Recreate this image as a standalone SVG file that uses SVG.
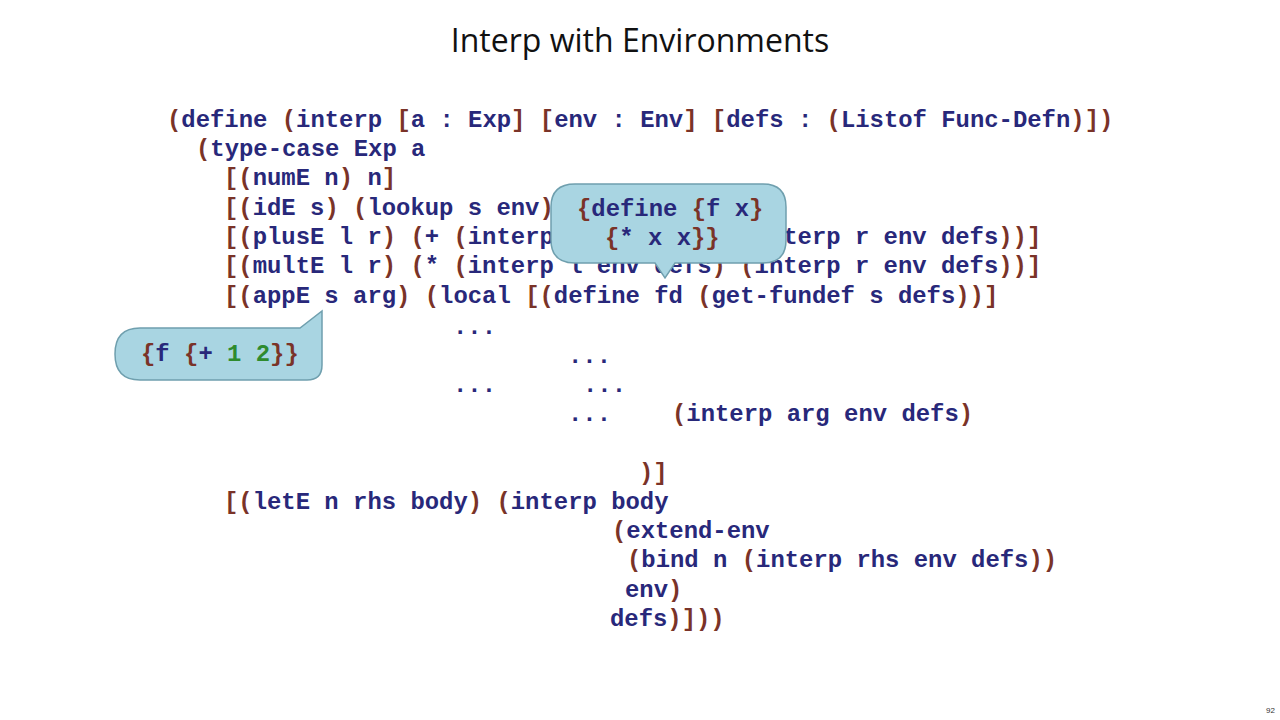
<svg xmlns="http://www.w3.org/2000/svg" width="1280" height="720" viewBox="0 0 1280 720">
<style>
.c{font-family:"Liberation Mono",monospace;font-weight:bold;font-size:23.9px;fill:#28287a}
.p{fill:#7a3328}
.g{fill:#2e8b2e}
.b{fill:#a9d5e2;stroke:#6f9fae;stroke-width:1.5}
</style>
<rect width="1280" height="720" fill="#fff"/>
<text x="640" y="52" text-anchor="middle" font-family="'Open Sans','Liberation Sans',sans-serif" font-size="32" fill="#111">Interp with Environments</text>
<g id="code" class="c">
<text x="167" y="127"><tspan class="p">(</tspan>define <tspan class="p">(</tspan>interp <tspan class="p">[</tspan>a : Exp<tspan class="p">]</tspan> <tspan class="p">[</tspan>env : Env<tspan class="p">]</tspan> <tspan class="p">[</tspan>defs : <tspan class="p">(</tspan>Listof Func-Defn<tspan class="p">)])</tspan></text>
<text x="196" y="156"><tspan class="p">(</tspan>type-case Exp a</text>
<text x="224" y="185"><tspan class="p">[(</tspan>numE n<tspan class="p">)</tspan> n<tspan class="p">]</tspan></text>
<text x="224" y="215"><tspan class="p">[(</tspan>idE s<tspan class="p">)</tspan> <tspan class="p">(</tspan>lookup s env<tspan class="p">)]</tspan></text>
<text x="224" y="244"><tspan class="p">[(</tspan>plusE l r<tspan class="p">)</tspan> <tspan class="p">(</tspan>+ <tspan class="p">(</tspan>interp l env defs<tspan class="p">)</tspan> <tspan class="p">(</tspan>interp r env defs<tspan class="p">))]</tspan></text>
<text x="224" y="273"><tspan class="p">[(</tspan>multE l r<tspan class="p">)</tspan> <tspan class="p">(</tspan>* <tspan class="p">(</tspan>interp l env defs<tspan class="p">)</tspan> <tspan class="p">(</tspan>interp r env defs<tspan class="p">))]</tspan></text>
<text x="224" y="303"><tspan class="p">[(</tspan>appE s arg<tspan class="p">)</tspan> <tspan class="p">(</tspan>local <tspan class="p">[(</tspan>define fd <tspan class="p">(</tspan>get-fundef s defs<tspan class="p">))]</tspan></text>
<text x="453" y="334">...</text>
<text x="568" y="363">...</text>
<text x="453" y="392">...</text>
<text x="583" y="392">...</text>
<text x="568" y="421">...</text>
<text x="672" y="421"><tspan class="p">(</tspan>interp arg env defs<tspan class="p">)</tspan></text>
<text x="639" y="480"><tspan class="p">)]</tspan></text>
<text x="224" y="509"><tspan class="p">[(</tspan>letE n rhs body<tspan class="p">)</tspan> <tspan class="p">(</tspan>interp body</text>
<text x="612" y="538"><tspan class="p">(</tspan>extend-env</text>
<text x="627" y="567"><tspan class="p">(</tspan>bind n <tspan class="p">(</tspan>interp rhs env defs<tspan class="p">))</tspan></text>
<text x="625" y="597">env<tspan class="p">)</tspan></text>
<text x="610" y="626">defs<tspan class="p">)]))</tspan></text>
</g>
<g id="bubble-define">
<path class="b" d="M575,184 H763 Q786,184 786,207 V240 Q786,263 763,263 H675 L665,278 L655,263 H575 Q551,263 551,240 V207 Q551,184 575,184 Z"/>
<text class="c" x="577" y="216"><tspan class="p">{</tspan>define <tspan class="p">{</tspan>f x<tspan class="p">}</tspan></text>
<text class="c" x="605" y="245"><tspan class="p">{</tspan>* x x<tspan class="p">}}</tspan></text>
</g>
<g id="bubble-app">
<path class="b" d="M140,328 H300 L322,311 V365 Q322,380 307,380 H140 Q115,380 115,354 Q115,328 140,328 Z"/>
<text class="c" x="141" y="361"><tspan class="p">{</tspan>f <tspan class="p">{</tspan>+ <tspan class="g">1 2</tspan><tspan class="p">}}</tspan></text>
</g>
<text x="1275" y="713" text-anchor="end" font-family="'Liberation Sans',sans-serif" font-size="8" fill="#333">92</text>
</svg>
